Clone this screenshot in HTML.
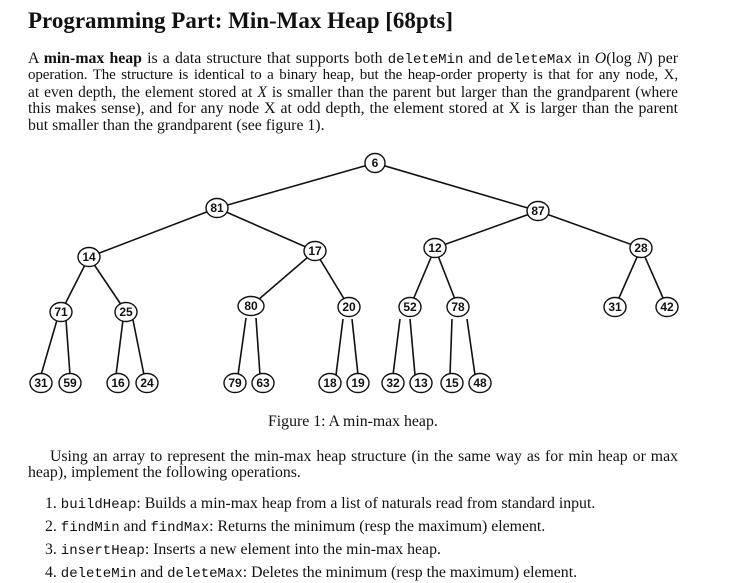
<!DOCTYPE html>
<html><head><meta charset="utf-8"><style>
body{margin:0;width:732px;height:583px;background:#fff;position:relative;overflow:hidden;font-family:"Liberation Serif",serif;color:#111}
.l{position:absolute;left:28px;width:650px;font-size:15.8px;white-space:nowrap;line-height:17px}
.j{text-align:justify;text-align-last:justify;white-space:normal;height:17px;overflow:visible}
code{font-family:"Liberation Mono",monospace;font-size:14px}
h1{position:absolute;left:28px;top:8px;margin:0;font-size:23px;font-weight:bold;white-space:nowrap}
svg{position:absolute;left:0;top:0}
svg text{font-family:"Liberation Sans",sans-serif;font-weight:bold;font-size:12px;text-anchor:middle}
</style></head><body>
<h1>Programming Part: Min-Max Heap [68pts]</h1>
<div class="l j" style="top:50px">A <b>min-max heap</b> is a data structure that supports both <code>deleteMin</code> and <code>deleteMax</code> in <i>O</i>(log <i>N</i>) per</div>
<div class="l j" style="top:67px;font-size:15px;letter-spacing:-0.1px">operation. The structure is identical to a binary heap, but the heap-order property is that for any node, X,</div>
<div class="l j" style="top:84px;font-size:15.4px">at even depth, the element stored at <i>X</i> is smaller than the parent but larger than the grandparent (where</div>
<div class="l j" style="top:100px">this makes sense), and for any node X at odd depth, the element stored at X is larger than the parent</div>
<div class="l" style="top:117px">but smaller than the grandparent (see figure 1).</div>
<svg width="732" height="583" viewBox="0 0 732 583">
<g stroke="#111" stroke-width="1.6" fill="none">
<line x1="375" y1="163" x2="217" y2="208"/><line x1="375" y1="163" x2="538" y2="211"/>
<line x1="217" y1="208" x2="89" y2="257"/><line x1="217" y1="208" x2="315" y2="251"/>
<line x1="538" y1="211" x2="435" y2="248"/><line x1="538" y1="211" x2="641" y2="248"/>
<line x1="89" y1="257" x2="61" y2="312"/><line x1="89" y1="257" x2="126" y2="312"/>
<line x1="315" y1="251" x2="251" y2="306"/><line x1="315" y1="251" x2="349" y2="307"/>
<line x1="435" y1="248" x2="410" y2="307"/><line x1="435" y1="248" x2="458" y2="307"/>
<line x1="641" y1="248" x2="615" y2="307"/><line x1="641" y1="248" x2="667" y2="307"/>
<line x1="57" y1="320" x2="41" y2="375"/><line x1="66" y1="320" x2="70" y2="375"/>
<line x1="123" y1="320" x2="116" y2="375"/><line x1="133" y1="320" x2="144" y2="375"/>
<line x1="246" y1="318" x2="238" y2="375"/><line x1="256" y1="318" x2="260" y2="375"/>
<line x1="343" y1="319" x2="336" y2="375"/><line x1="352" y1="319" x2="358" y2="375"/>
<line x1="400" y1="319" x2="393" y2="375"/><line x1="410" y1="319" x2="415" y2="375"/>
<line x1="452" y1="319" x2="450" y2="375"/><line x1="467" y1="319" x2="475" y2="375"/>
</g>
<g stroke="#111" stroke-width="1.4" fill="#fff">
<ellipse cx="375" cy="163" rx="10" ry="9.5"/><ellipse cx="217" cy="208" rx="11" ry="9.5"/><ellipse cx="538" cy="211" rx="11" ry="9.5"/>
<ellipse cx="89" cy="257" rx="11" ry="9.5"/><ellipse cx="315" cy="251" rx="11" ry="9.5"/><ellipse cx="435" cy="248" rx="11" ry="9.5"/><ellipse cx="641" cy="248" rx="11" ry="9.5"/>
<ellipse cx="61" cy="312" rx="11" ry="9.5"/><ellipse cx="126" cy="312" rx="11" ry="9.5"/><ellipse cx="251" cy="306" rx="13" ry="9.5"/><ellipse cx="349" cy="307" rx="11" ry="9.5"/>
<ellipse cx="410" cy="307" rx="11" ry="9.5"/><ellipse cx="458" cy="307" rx="11" ry="9.5"/><ellipse cx="615" cy="307" rx="11" ry="9.5"/><ellipse cx="667" cy="307" rx="11" ry="9.5"/>
<ellipse cx="41" cy="383" rx="11" ry="9.5"/><ellipse cx="70" cy="383" rx="11" ry="9.5"/><ellipse cx="118" cy="383" rx="11" ry="9.5"/><ellipse cx="147" cy="383" rx="11" ry="9.5"/>
<ellipse cx="235" cy="383" rx="11" ry="9.5"/><ellipse cx="263" cy="383" rx="11" ry="9.5"/><ellipse cx="330" cy="383" rx="11" ry="9.5"/><ellipse cx="358" cy="383" rx="11" ry="9.5"/>
<ellipse cx="393" cy="383" rx="11" ry="9.5"/><ellipse cx="421" cy="383" rx="11" ry="9.5"/><ellipse cx="452" cy="383" rx="11" ry="9.5"/><ellipse cx="480" cy="383" rx="11" ry="9.5"/>
</g>
<g fill="#111">
<text x="375" y="167">6</text><text x="217" y="212">81</text><text x="538" y="215">87</text>
<text x="89" y="261">14</text><text x="315" y="255">17</text><text x="435" y="252">12</text><text x="641" y="252">28</text>
<text x="61" y="316">71</text><text x="126" y="316">25</text><text x="251" y="310">80</text><text x="349" y="311">20</text>
<text x="410" y="311">52</text><text x="458" y="311">78</text><text x="615" y="311">31</text><text x="667" y="311">42</text>
<text x="41" y="387">31</text><text x="70" y="387">59</text><text x="118" y="387">16</text><text x="147" y="387">24</text>
<text x="235" y="387">79</text><text x="263" y="387">63</text><text x="330" y="387">18</text><text x="358" y="387">19</text>
<text x="393" y="387">32</text><text x="421" y="387">13</text><text x="452" y="387">15</text><text x="480" y="387">48</text>
</g>
</svg>
<div class="l" style="top:413px;left:268px">Figure 1: A min-max heap.</div>
<div class="l j" style="top:448px;left:50px;width:628px">Using an array to represent the min-max heap structure (in the same way as for min heap or max</div>
<div class="l" style="top:464px">heap), implement the following operations.</div>
<div class="l" style="top:495px;left:45px">1. <code>buildHeap</code>: Builds a min-max heap from a list of naturals read from standard input.</div>
<div class="l" style="top:518px;left:45px">2. <code>findMin</code> and <code>findMax</code>: Returns the minimum (resp the maximum) element.</div>
<div class="l" style="top:541px;left:45px">3. <code>insertHeap</code>: Inserts a new element into the min-max heap.</div>
<div class="l" style="top:564px;left:45px">4. <code>deleteMin</code> and <code>deleteMax</code>: Deletes the minimum (resp the maximum) element.</div>
</body></html>
